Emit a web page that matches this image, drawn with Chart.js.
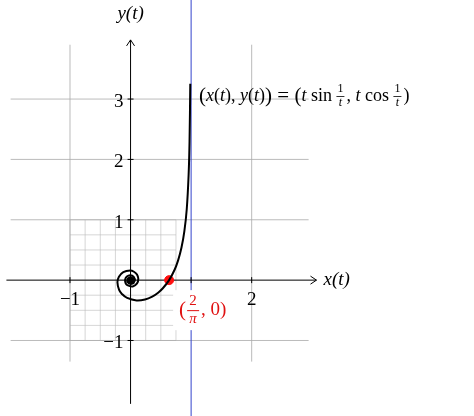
<!DOCTYPE html>
<html><head><meta charset="utf-8">
<script src="https://cdn.jsdelivr.net/npm/chart.js@4/dist/chart.umd.min.js"></script>
<style>html,body{margin:0;padding:0;background:#fff}#w{width:474px;height:416px}</style>
</head><body><div id="w"><canvas id="c"></canvas></div>
<script>
// Curve points (x(t), y(t))
const curveX = [0.986,0.974,0.959,0.928,0.888,0.841,0.785,0.729,0.6366,0.533,0.455,0.358,0.239,0.099,-0.057,-0.143,-0.189,-0.217,-0.192,-0.120,-0.005,0.056,0.106,0.128,0.107,0.037,-0.054,-0.084,-0.0895,-0.061,-0.005,0.052,0.069,0.021,-0.049,-0.04,0.0];
const curveY = [3.254,2.303,1.755,1.179,0.807,0.540,0.327,0.176,0,-0.135,-0.208,-0.273,-0.320,-0.336,-0.295,-0.229,-0.163,-0.037,0.057,0.134,0.160,0.139,0.092,0.021,-0.055,-0.104,-0.084,-0.045,0.0093,0.059,0.080,0.054,-0.010,-0.062,-0.035,0.02,0.0];
const markX = [0.6366], markY = [0];
const xTicks = [-1, 2], yTicks = [-1, 1, 2, 3];
const majorX = [-1, 2], majorY = [-1, 1, 2, 3];
const fineStep = 0.25;

const F = '"Liberation Serif", serif';
const deco = {
  id:'deco',
  beforeDatasetsDraw(ch){
    const c=ch.ctx, X=ch.scales.x, Y=ch.scales.y;
    const px=v=>X.getPixelForValue(v), py=v=>Y.getPixelForValue(v);
    c.save();
    c.strokeStyle='#bbb'; c.lineWidth=0.6; c.beginPath();
    for(let v=-1; v<=0.76; v+=fineStep){ c.moveTo(px(v),py(-1)); c.lineTo(px(v),py(1)); }
    for(let v=-1; v<=1.01; v+=fineStep){ c.moveTo(px(-1),py(v)); c.lineTo(px(0.75),py(v)); }
    c.stroke();
    c.strokeStyle='#aaa'; c.lineWidth=0.8; c.beginPath();
    for(const v of majorX){ c.moveTo(px(v),py(3.9)); c.lineTo(px(v),py(-1.35)); }
    for(const v of majorY){ c.moveTo(px(-1.98),py(v)); c.lineTo(px(2.94),py(v)); }
    c.stroke();
    c.strokeStyle='#3344cc'; c.lineWidth=1; c.beginPath();
    c.moveTo(px(1),0); c.lineTo(px(1),ch.height); c.stroke();
    c.strokeStyle='#000'; c.lineWidth=1; c.beginPath();
    c.moveTo(px(-2.05),py(0)); c.lineTo(px(3.07),py(0));
    c.moveTo(px(0),py(-2.05)); c.lineTo(px(0),py(3.98));
    c.stroke();
    c.beginPath();
    c.moveTo(px(3.07)-6,py(0)-4); c.lineTo(px(3.07),py(0)); c.lineTo(px(3.07)-6,py(0)+4);
    c.moveTo(px(0)-4,py(3.98)+6); c.lineTo(px(0),py(3.98)); c.lineTo(px(0)+4,py(3.98)+6);
    c.stroke();
    c.beginPath();
    for(const v of [-1,1,2]){ c.moveTo(px(v),py(0)-3); c.lineTo(px(v),py(0)+3); }
    for(const v of yTicks){ c.moveTo(px(0)-3,py(v)); c.lineTo(px(0)+3,py(v)); }
    c.stroke();
    c.fillStyle='#000'; c.font='19px '+F; c.textBaseline='middle';
    c.textAlign='center';
    for(const v of xTicks){ c.fillText(v<0?'\u2212'+(-v):String(v), px(v), py(0)+20); }
    c.textAlign='right';
    for(const v of yTicks){ c.fillText(v<0?'\u2212'+(-v):String(v), px(0)-7, py(v)+3); }
    c.font='italic 19px '+F; c.textAlign='left';
    c.fillText('x(t)', px(3.07)+7, py(0)); 
    c.textAlign='center';
    c.fillText('y(t)', px(0), 14);
    c.restore();
  },
  afterDatasetsDraw(ch){
    const c=ch.ctx, X=ch.scales.x, Y=ch.scales.y;
    const px=v=>X.getPixelForValue(v), py=v=>Y.getPixelForValue(v);
    c.save();
    const lx=px(0.6366)+10, ly=py(0)+30;
    c.fillStyle='#fff'; c.fillRect(lx-6,ly-20,64,40);
    c.fillStyle='#e01010'; c.textBaseline='middle'; c.textAlign='left';
    c.font='21px '+F; c.fillText('(', lx, ly);
    c.font='15px '+F; c.textAlign='center'; c.fillText('2', lx+14, ly-9);
    c.font='italic 15px '+F; c.fillText('\u03c0', lx+14, ly+9);
    c.fillRect(lx+8, ly, 12, 1);
    c.textAlign='left'; c.font='19px '+F; c.fillText(', 0)', lx+22, ly);
    c.fillStyle='#000';
    let x=px(1)+8, y=py(3.05);
    const put=(t,f)=>{c.font=f; c.fillText(t,x,y); x+=c.measureText(t).width;};
    const frac=()=>{c.font='12px '+F; c.textAlign='center'; c.fillText('1',x+4,y-7); c.font='italic 12px '+F; c.fillText('t',x+4,y+7); c.fillRect(x,y,8,0.8); c.textAlign='left'; x+=10;};
    put('(', '21px '+F); put('x', 'italic 18px '+F); put('(', '18px '+F); put('t','italic 18px '+F); put('), ','18px '+F);
    put('y', 'italic 18px '+F); put('(', '18px '+F); put('t','italic 18px '+F); put(')','18px '+F); put(') = (','21px '+F);
    put('t','italic 18px '+F); put(' sin ','18px '+F); frac(); put(', ','18px '+F);
    put('t','italic 18px '+F); put(' cos ','18px '+F); frac(); put(')','18px '+F);
    c.restore();
  }
};

new Chart(document.getElementById('c'), {
  type:'scatter',
  data:{datasets:[
    {data:curveX.map((v,i)=>({x:v,y:curveY[i]})), showLine:true, borderColor:'#000', borderWidth:2, pointRadius:0, tension:0.4, fill:false},
    {data:[{x:0,y:0}], pointRadius:3.5, backgroundColor:'#000', borderColor:'#000'},
    {data:markX.map((v,i)=>({x:v,y:markY[i]})), pointRadius:4.5, backgroundColor:'#ff1010', borderColor:'#ff1010'}
  ]},
  plugins:[deco],
  options:{
    responsive:true, maintainAspectRatio:false, animation:false,
    layout:{padding:0},
    plugins:{legend:{display:false}, tooltip:{enabled:false}},
    scales:{
      x:{type:'linear', min:-2.065, max:5.58, display:false},
      y:{type:'linear', min:-2.16, max:4.55, display:false}
    }
  }
});
</script></body></html>
